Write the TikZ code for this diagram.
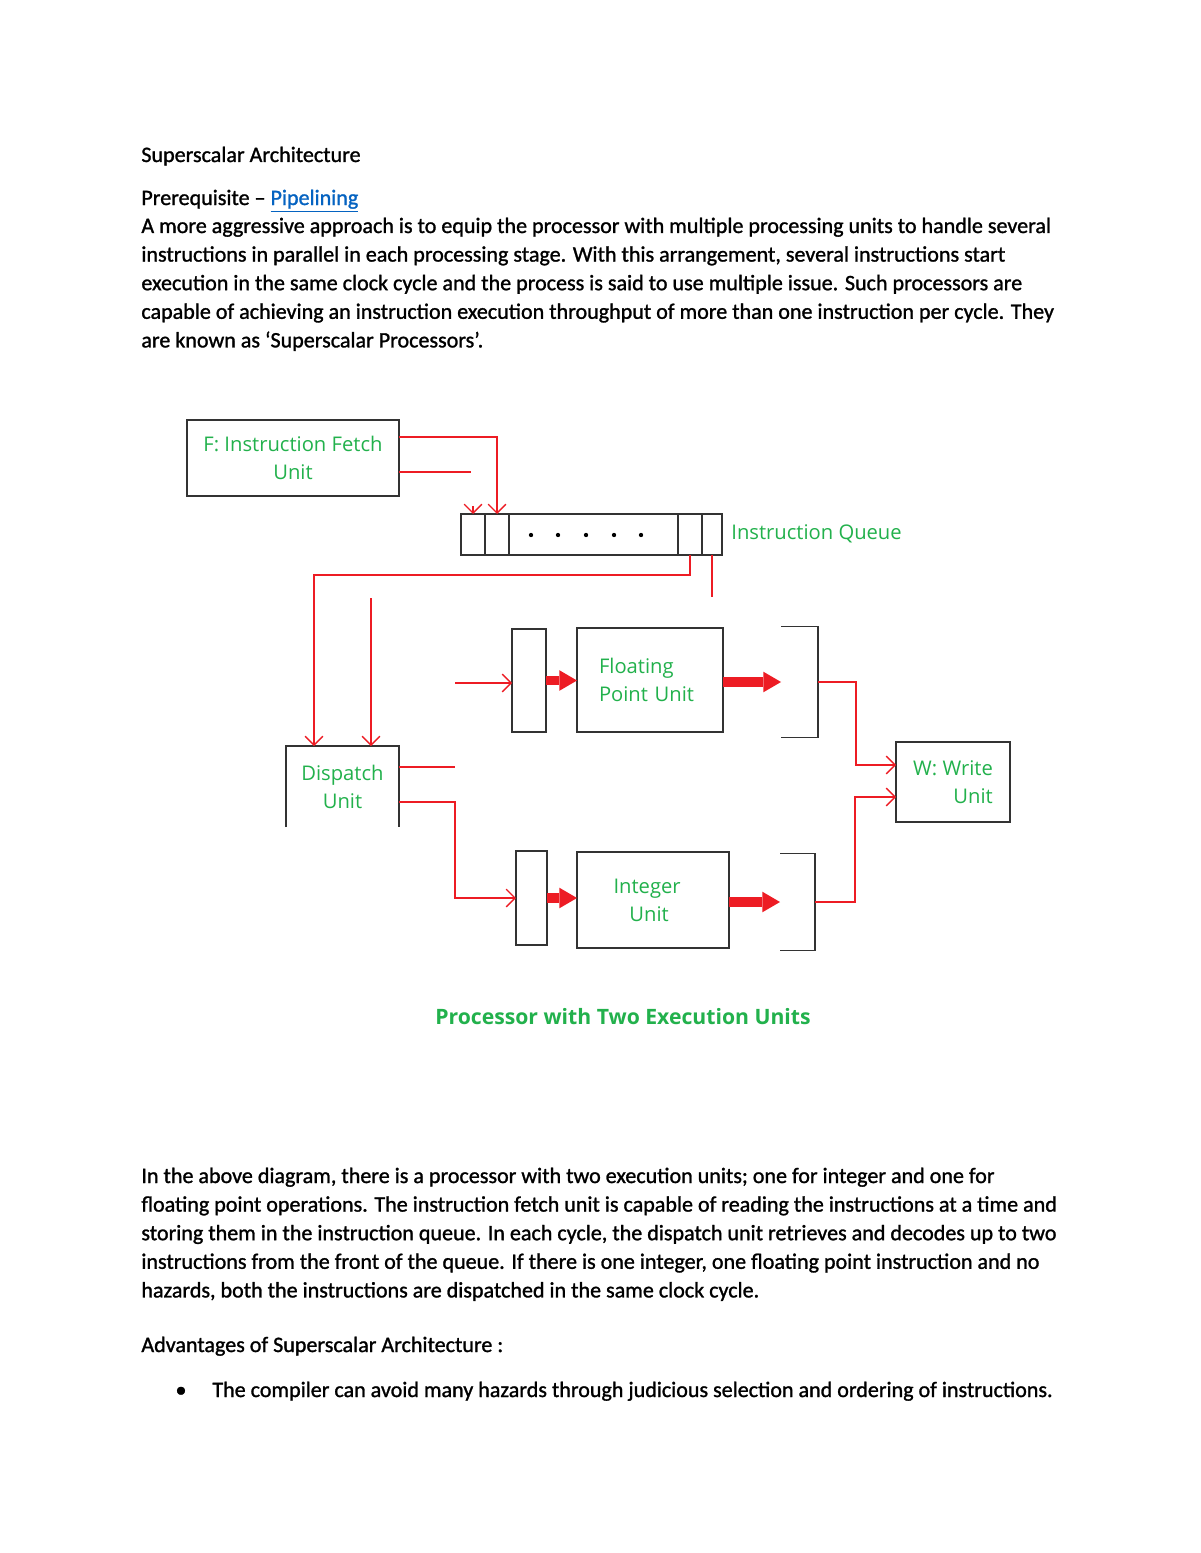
\documentclass[tikz,border=0pt]{standalone}
\usepackage{fontspec}
\setmainfont{Carlito}[BoldFont=Carlito,BoldFeatures={FakeBold=1.2}]
\newfontfamily\diagfont{Open Sans}
\usetikzlibrary{arrows.meta}
\definecolor{wirered}{HTML}{ED1C24}
\definecolor{labelgreen}{HTML}{22B14C}
\definecolor{linkblue}{HTML}{0563C1}
\newcommand\pxu{0.51pt}

\begin{document}
\begin{tikzpicture}[x=0.51pt,y=-0.51pt,
    para/.style={anchor=base west,inner sep=0pt,font=\bfseries\fontsize{11.25}{14}\selectfont},
    greentext/.style={inner sep=0pt,text=labelgreen,font=\diagfont\fontsize{10.3}{14.3}\selectfont,align=center},
    unitbox/.style={greentext,draw=black!80,line width=1pt,outer sep=0pt},
    cell/.style={draw=black!80,line width=1pt,inner sep=0pt,outer sep=0pt,minimum height=41*\pxu},
    slot/.style={inner sep=0pt,outer sep=0pt},
    wire/.style={draw=wirered,line width=0.7pt},
    link/.style={wire,-{Straight Barb[length=4.5pt,width=9pt]}},
    fat/.style={draw=wirered,line width=5pt,-{Triangle[length=9pt,width=10.5pt,line width=0pt]}}]
  \path[fill=white,use as bounding box] (0,0) rectangle (1200,1553);

  % text above the diagram
  \node[para] (head) at (141,162) {Superscalar Architecture};
  \node[para] (prereq) at (141,205) {Prerequisite – \textcolor{linkblue}{\underline{Pipelining}}};
  \node[para] (p1) at (141,233) {A more aggressive approach is to equip the processor with multiple processing units to handle several};
  \node[para] (p2) at (141,261.6) {instructions in parallel in each processing stage. With this arrangement, several instructions start};
  \node[para] (p3) at (141,290.2) {execution in the same clock cycle and the process is said to use multiple issue. Such processors are};
  \node[para] (p4) at (141,318.8) {capable of achieving an instruction execution throughput of more than one instruction per cycle. They};
  \node[para] (p5) at (141,347.4) {are known as ‘Superscalar Processors’.};

  % fetch unit and queue
  \node[unitbox,minimum width=212*\pxu,minimum height=76*\pxu] (fetch) at (293,458) {F: Instruction Fetch\\Unit};
  \node[cell,minimum width=24*\pxu] (q1) at (473,534.5) {};
  \node[cell,minimum width=24*\pxu] (q2) at (497,534.5) {};
  \node[cell,minimum width=169*\pxu] (qmid) at (593.5,534.5) {};
  \node[cell,minimum width=24*\pxu] (q3) at (690,534.5) {};
  \node[cell,minimum width=20*\pxu] (q4) at (712,534.5) {};
  \foreach \x in {531,558,586,614,641} \fill (\x,535) circle (1.1pt);
  \node[greentext,anchor=west] (qlabel) at (731,534) {Instruction Queue};

  % dispatch, latches and execution units
  \node[greentext,slot,minimum width=113*\pxu,minimum height=81*\pxu] (dispatch) at (342.5,786.5) {Dispatch\\Unit};
  \draw[black!80,line width=1pt] (dispatch.south west) -- (dispatch.north west) -- (dispatch.north east) -- (dispatch.south east);
  \node[cell,minimum width=34*\pxu,minimum height=103*\pxu] (fplatch) at (529,680.5) {};
  \node[unitbox,align=left,text width=102*\pxu,minimum width=146*\pxu,minimum height=104*\pxu] (fpunit) at (650,680) {Floating\\Point Unit};
  \node[cell,minimum width=31*\pxu,minimum height=94*\pxu] (intlatch) at (531.5,898) {};
  \node[unitbox,minimum width=152*\pxu,minimum height=96*\pxu] (intunit) at (653,900) {\hspace*{-6pt}Integer\\\hspace*{-4pt}Unit};
  \node[slot,minimum width=37*\pxu,minimum height=111*\pxu] (fpout) at (799.5,682) {};
  \node[slot,minimum width=35*\pxu,minimum height=97*\pxu] (intout) at (797.5,902) {};
  \draw[black!80,line width=1pt] (fpout.north west) -- (fpout.north east) -- (fpout.south east) -- (fpout.south west);
  \draw[black!80,line width=1pt] (intout.north west) -- (intout.north east) -- (intout.south east) -- (intout.south west);
  \node[unitbox,align=right,minimum width=114*\pxu,minimum height=80*\pxu] (write) at (953,782) {W: Write\\Unit};

  % free ends and bends
  \coordinate (fetchend) at (471,472);
  \coordinate (qbend) at (314,575);
  \coordinate (qend) at (712,597);
  \coordinate (dstart) at (371,598);
  \coordinate (dend) at (455,767);
  \coordinate (intbend) at (455,802);
  \coordinate (fpstart) at (455,683);
  \coordinate (fpbend) at (856,765);
  \coordinate (intwbend) at (855,797);

  % connectors
  \draw[link] ([yshift=-17*\pxu]fetch.north east) -| (q2.north);
  \draw[wire] (fetch.east |- fetchend) -- (fetchend);
  \draw[link] ([yshift=4pt]q1.north) -- (q1.north);
  \draw[link] (q3.south) |- (qbend) -- (qbend |- dispatch.north);
  \draw[wire] (q4.south) -- (q4.south |- qend);
  \draw[link] (dstart) -- (dstart |- dispatch.north);
  \draw[wire] (dispatch.east |- dend) -- (dend);
  \draw[link] (dispatch.east |- intbend) -- (intbend) |- (intlatch.west);
  \draw[link] (fpstart) -- (fpstart -| fplatch.west);
  \draw[fat] (fplatch.east) -- (fplatch.east -| fpunit.west);
  \draw[fat] (fpunit.east |- fpout.west) -- (fpout.west);
  \draw[fat] (intlatch.east) -- (intlatch.east -| intunit.west);
  \draw[fat] (intunit.east |- intout.west) -- (intout.west);
  \draw[link] (fpout.east) -| (fpbend) -- (fpbend -| write.west);
  \draw[link] (intout.east) -| (intwbend) -- (intwbend -| write.west);

  \node[greentext,font=\diagfont\bfseries\fontsize{10.8}{12}\selectfont] (title) at (623,1017) {Processor with Two Execution Units};

  % text below the diagram
  \node[para] (b1) at (141,1183) {In the above diagram, there is a processor with two execution units; one for integer and one for};
  \node[para] (b2) at (141,1211.6) {floating point operations. The instruction fetch unit is capable of reading the instructions at a time and};
  \node[para] (b3) at (141,1240.2) {storing them in the instruction queue. In each cycle, the dispatch unit retrieves and decodes up to two};
  \node[para] (b4) at (141,1268.8) {instructions from the front of the queue. If there is one integer, one floating point instruction and no};
  \node[para] (b5) at (141,1297.4) {hazards, both the instructions are dispatched in the same clock cycle.};
  \node[para] (adv) at (141,1352) {Advantages of Superscalar Architecture :};
  \node[para,anchor=base] (dot) at (181,1397) {•};
  \node[para] (item) at (212,1397) {The compiler can avoid many hazards through judicious selection and ordering of instructions.};
\end{tikzpicture}
\end{document}
